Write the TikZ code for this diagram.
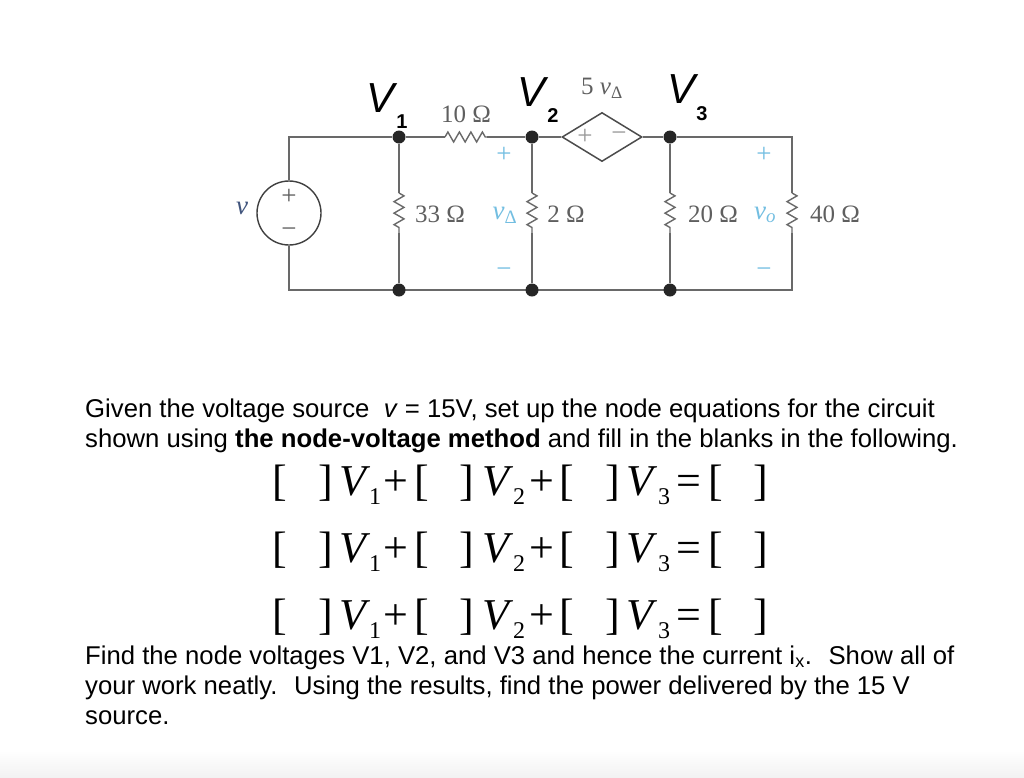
\documentclass[tikz,border=0pt]{standalone}
\usepackage{fontspec}
\setmainfont{Liberation Sans}
\newfontfamily\timesfont{Liberation Serif}
\usetikzlibrary{decorations.pathmorphing,shapes.geometric,backgrounds}
\definecolor{wire}{RGB}{105,105,105}
\definecolor{cyanlbl}{RGB}{115,190,225}
\definecolor{greylbl}{RGB}{95,95,95}
\definecolor{srcblue}{RGB}{65,85,125}
\newcommand{\eqline}[1]{%
  \node[eqtxt] at (280,#1) {[};
  \node[eqtxt] at (326,#1) {]};
  \node[eqtxt] at (355,#1) {\textit{V}};
  \node[eqsub] at (375,#1+9) {1};
  \node[eqtxt] at (396,#1) {+};
  \node[eqtxt] at (422,#1) {[};
  \node[eqtxt] at (467,#1) {]};
  \node[eqtxt] at (498,#1) {\textit{V}};
  \node[eqsub] at (519,#1+9) {2};
  \node[eqtxt] at (542,#1) {+};
  \node[eqtxt] at (567,#1) {[};
  \node[eqtxt] at (613,#1) {]};
  \node[eqtxt] at (642,#1) {\textit{V}};
  \node[eqsub] at (664,#1+9) {3};
  \node[eqtxt] at (689,#1) {=};
  \node[eqtxt] at (716,#1) {[};
  \node[eqtxt] at (761,#1) {]};
}
\tikzset{
  wireln/.style={draw=wire, line width=1.8pt},
  resistor/.style={draw=wire, line width=1.4pt, decorate, decoration={zigzag, segment length=11.5pt, amplitude=5pt}},
  dotnode/.style={circle, fill=black!85, inner sep=0pt, minimum size=13pt},
  srcnode/.style={circle, draw=black!75, line width=1.4pt, fill=white, inner sep=0pt, minimum size=64pt},
  depnode/.style={diamond, draw=black!70, line width=1.5pt, fill=white, inner sep=0pt, minimum width=80pt, minimum height=49pt},
  vallbl/.style={text=greylbl, font=\timesfont\fontsize{25}{25}\selectfont, inner sep=0pt},
  signlbl/.style={text=greylbl, font=\timesfont\fontsize{27}{27}\selectfont, inner sep=0pt},
  cyanl/.style={text=cyanlbl, font=\timesfont\fontsize{27}{27}\selectfont, inner sep=0pt},
  handv/.style={anchor=base west, font=\itshape\fontsize{42}{42}\selectfont, inner sep=0pt},
  handsub/.style={anchor=base, font=\bfseries\fontsize{20}{20}\selectfont, inner sep=0pt},
  bodytxt/.style={anchor=base west, inner sep=0pt, font=\fontsize{25.7}{25.7}\selectfont},
  eqtxt/.style={anchor=base, inner sep=0pt, font=\timesfont\fontsize{44}{44}\selectfont},
  eqsub/.style={anchor=base, inner sep=0pt, font=\timesfont\fontsize{24}{24}\selectfont},
}
\begin{document}
\begin{tikzpicture}[x=1pt,y=-1pt]
  \useasboundingbox (0,0) rectangle (1024,777);
  \shade[top color=white, bottom color=black!5] (0,750) rectangle (1024,777);

  % junctions
  \coordinate (TL) at (289,137);
  \coordinate (BL) at (289,290);
  \coordinate (TR) at (792,137);
  \coordinate (BR) at (792,290);
  \coordinate (R10a) at (445,137);
  \coordinate (R10b) at (487,137);
  \coordinate (R33a) at (399,193);
  \coordinate (R33b) at (399,233);
  \coordinate (R2a) at (532,193);
  \coordinate (R2b) at (532,233);
  \coordinate (R20a) at (670,193);
  \coordinate (R20b) at (670,233);
  \coordinate (R40a) at (792,193);
  \coordinate (R40b) at (792,233);
  \node[dotnode] (T1) at (399,137) {};
  \node[dotnode] (T2) at (532,137) {};
  \node[dotnode] (T3) at (670,137) {};
  \node[dotnode] (B1) at (399,290) {};
  \node[dotnode] (B2) at (532,290) {};
  \node[dotnode] (B3) at (670,290) {};
  \node[srcnode] (src) at (289,213) {};
  \node[depnode] (dep) at (602,137) {};

  \begin{scope}[on background layer]
  % wires
  \draw[wireln] (src) -- (TL) -- (T1) -- (R10a);
  \draw[wireln] (R10b) -- (T2) -- (dep);
  \draw[wireln] (dep) -- (T3) -- (TR) -- (R40a);
  \draw[wireln] (src) -- (BL) -- (BR) -- (R40b);
  \draw[wireln] (T1) -- (R33a);
  \draw[wireln] (R33b) -- (B1);
  \draw[wireln] (T2) -- (R2a);
  \draw[wireln] (R2b) -- (B2);
  \draw[wireln] (T3) -- (R20a);
  \draw[wireln] (R20b) -- (B3);

  % resistors
  \draw[resistor] (R10a) -- (R10b);
  \draw[resistor] (R33a) -- (R33b);
  \draw[resistor] (R2a) -- (R2b);
  \draw[resistor] (R20a) -- (R20b);
  \draw[resistor] (R40a) -- (R40b);
  \end{scope}

  % signs
  \node[signlbl] (srcplus) at (289,197) {+};
  \node[signlbl] (srcminus) at (289,233) {−};
  \node[signlbl, text=gray!80] (depplus) at (585,137) {+};
  \node[signlbl, text=gray!80] (depminus) at (619,137) {−};
  \node[cyanl] (dplus) at (504,155) {+};
  \node[cyanl] (dminus) at (504,273) {−};
  \node[cyanl] (oplus) at (764,155) {+};
  \node[cyanl] (ominus) at (764,273) {−};

  % labels
  \node[vallbl] (l10) at (466,114) {10 Ω};
  \node[vallbl] (l33) at (440,214) {33 Ω};
  \node[vallbl] (l2) at (566,214) {2 Ω};
  \node[vallbl] (l20) at (713,214) {20 Ω};
  \node[vallbl] (l40) at (835,214) {40 Ω};
  \node[vallbl] (l5) at (602,88) {5 \textit{v}\textsubscript{Δ}};
  \node[cyanl, text=srcblue] (lv) at (242,208) {\textit{v}};
  \node[cyanl] (lvd) at (505,215) {\textit{v}\textsubscript{Δ}};
  \node[cyanl] (lvo) at (765,215) {\textit{v}\textsubscript{\textit{o}}};

  % handwriting
  \node[handv] (V1) at (366,112) {V};
  \node[handsub] (V1s) at (402,128) {1};
  \node[handv] (V2) at (517,106) {V};
  \node[handsub] (V2s) at (553,122) {2};
  \node[handv] (V3) at (667,103) {V};
  \node[handsub] (V3s) at (702,120) {3};

  % text
  \node[bodytxt] (t1) at (85,417) {Given the voltage source \ \textit{v} = 15V, set up the node equations for the circuit};
  \node[bodytxt] (t2) at (85,447) {shown using \textbf{the node-voltage method} and fill in the blanks in the following.};
  \node[bodytxt] (t3) at (85,664) {Find the node voltages V1, V2, and V3 and hence the current i\textsubscript{x}. \ Show all of};
  \node[bodytxt] (t4) at (85,694) {your work neatly. \ Using the results, find the power delivered by the 15 V};
  \node[bodytxt] (t5) at (85,724) {source.};

  % equations
  \eqline{495}
  \eqline{562}
  \eqline{629}
\end{tikzpicture}
\end{document}
